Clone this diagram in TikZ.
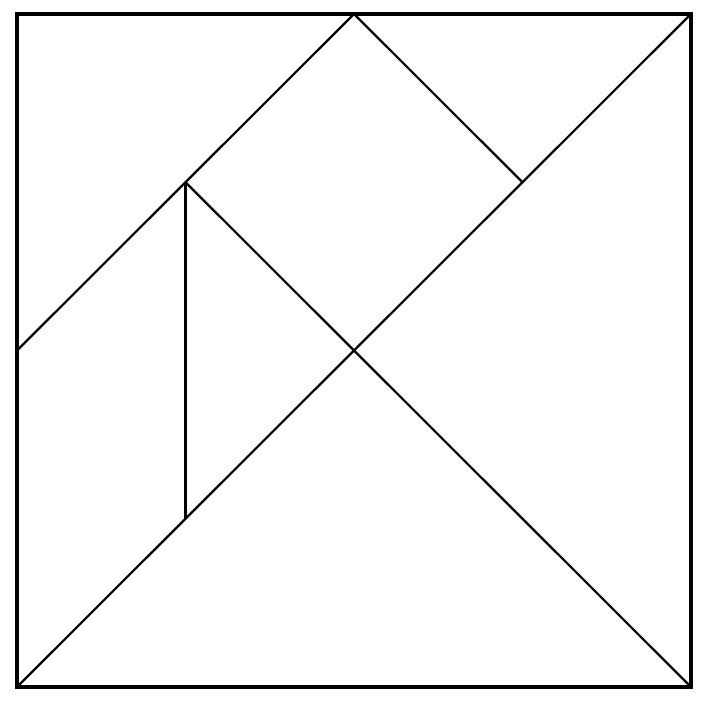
\documentclass[tikz,border=0pt]{standalone}
\begin{document}
\begin{tikzpicture}[x=1pt,y=-1pt,
  outline/.style={line width=3.2pt,line join=miter},
  edge/.style={line width=2.2pt,line cap=round}]
\useasboundingbox (0,0) rectangle (710,703);
\coordinate (TL) at (17,14);
\coordinate (TR) at (691,14);
\coordinate (BL) at (17,687);
\coordinate (BR) at (691,687);
\coordinate (C) at (354,350.5);
\coordinate (TM) at (354,14);
\coordinate (LM) at (17,350.5);
\coordinate (P) at (185.5,182.25);
\coordinate (Q) at (522.5,182.25);
\coordinate (R) at (185.5,518.75);
\draw[edge] (BL) -- (TR);
\draw[edge] (BR) -- (P);
\draw[edge] (LM) -- (TM);
\draw[edge] (TM) -- (Q);
\draw[outline] (P) -- (R);
\draw[outline] (TL) rectangle (BR);
\end{tikzpicture}
\end{document}
